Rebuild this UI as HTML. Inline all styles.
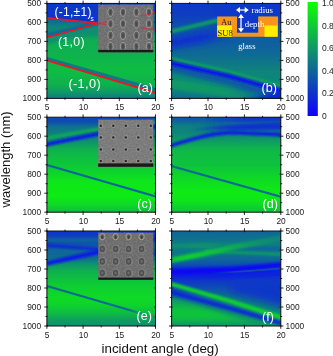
<!DOCTYPE html><html><head><meta charset="utf-8"><style>html,body{margin:0;padding:0;background:#fff;width:333px;height:356px;overflow:hidden}svg{display:block}</style></head><body><svg width="333" height="356" viewBox="0 0 333 356"><defs><clipPath id="cp1"><rect x="46.90" y="3.40" width="108.60" height="95.00"/></clipPath><linearGradient id="vg2" gradientUnits="userSpaceOnUse" x1="0" y1="3.40" x2="0" y2="98.40"><stop offset="0.0000" stop-color="#0e33cc"/><stop offset="0.1326" stop-color="#0e3dc2"/><stop offset="0.1747" stop-color="#0e6699"/><stop offset="0.3432" stop-color="#0e9966"/><stop offset="0.3853" stop-color="#0ead52"/><stop offset="0.5432" stop-color="#0eb24d"/><stop offset="0.7011" stop-color="#0ebd42"/><stop offset="0.8484" stop-color="#0eb24d"/><stop offset="0.9221" stop-color="#0e9e61"/><stop offset="1.0000" stop-color="#0e7a85"/></linearGradient><filter id="bl0" filterUnits="userSpaceOnUse" x="-20" y="-20" width="373" height="396"><feGaussianBlur stdDeviation="0.50"/></filter><linearGradient id="vg3" gradientUnits="userSpaceOnUse" x1="0" y1="17.00" x2="0" y2="38.00"><stop offset="0.0000" stop-color="#0e619e"/><stop offset="0.2381" stop-color="#0e708f"/><stop offset="0.4762" stop-color="#0e857a"/><stop offset="1.0000" stop-color="#0e8080"/></linearGradient><filter id="bl1" filterUnits="userSpaceOnUse" x="-20" y="-20" width="373" height="396"><feGaussianBlur stdDeviation="0.80"/></filter><filter id="bl2" filterUnits="userSpaceOnUse" x="-20" y="-20" width="373" height="396"><feGaussianBlur stdDeviation="1.60"/></filter><filter id="bl3" filterUnits="userSpaceOnUse" x="-20" y="-20" width="373" height="396"><feGaussianBlur stdDeviation="0.60"/></filter><filter id="bl4" filterUnits="userSpaceOnUse" x="-20" y="-20" width="373" height="396"><feGaussianBlur stdDeviation="0.25"/></filter><clipPath id="cp4"><rect x="171.60" y="3.40" width="109.20" height="95.00"/></clipPath><linearGradient id="vg5" gradientUnits="userSpaceOnUse" x1="0" y1="3.40" x2="0" y2="98.40"><stop offset="0.0000" stop-color="#0e38c7"/><stop offset="0.1116" stop-color="#0e3dc2"/><stop offset="0.2168" stop-color="#0e4cb2"/><stop offset="0.3432" stop-color="#0e5ca3"/><stop offset="0.4484" stop-color="#0e619e"/><stop offset="0.5432" stop-color="#0e6b94"/><stop offset="0.6484" stop-color="#0e7a85"/><stop offset="0.7221" stop-color="#0e857a"/><stop offset="0.8589" stop-color="#0e857a"/><stop offset="1.0000" stop-color="#0e6b94"/></linearGradient><linearGradient id="hg6" gradientUnits="userSpaceOnUse" x1="171.00" y1="0" x2="240.00" y2="0"><stop offset="0.0000" stop-color="#0e2ed1" stop-opacity="1.000"/><stop offset="0.4928" stop-color="#0e2ed1" stop-opacity="1.000"/><stop offset="1.0000" stop-color="#0e2ed1" stop-opacity="0.000"/></linearGradient><filter id="bl5" filterUnits="userSpaceOnUse" x="-20" y="-20" width="373" height="396"><feGaussianBlur stdDeviation="3.00"/></filter><filter id="bl6" filterUnits="userSpaceOnUse" x="-20" y="-20" width="373" height="396"><feGaussianBlur stdDeviation="1.20"/></filter><filter id="bl7" filterUnits="userSpaceOnUse" x="-20" y="-20" width="373" height="396"><feGaussianBlur stdDeviation="0.90"/></filter><linearGradient id="hg7" gradientUnits="userSpaceOnUse" x1="171.00" y1="0" x2="262.00" y2="0"><stop offset="0.0000" stop-color="#0e9e61" stop-opacity="1.000"/><stop offset="0.5934" stop-color="#0e9e61" stop-opacity="1.000"/><stop offset="1.0000" stop-color="#0e9e61" stop-opacity="0.000"/></linearGradient><filter id="bl8" filterUnits="userSpaceOnUse" x="-20" y="-20" width="373" height="396"><feGaussianBlur stdDeviation="3.20"/></filter><filter id="bl9" filterUnits="userSpaceOnUse" x="-20" y="-20" width="373" height="396"><feGaussianBlur stdDeviation="2.00"/></filter><filter id="bl10" filterUnits="userSpaceOnUse" x="-20" y="-20" width="373" height="396"><feGaussianBlur stdDeviation="2.20"/></filter><filter id="bl11" filterUnits="userSpaceOnUse" x="-20" y="-20" width="373" height="396"><feGaussianBlur stdDeviation="1.00"/></filter><clipPath id="cp8"><rect x="46.90" y="117.20" width="108.60" height="95.00"/></clipPath><linearGradient id="vg9" gradientUnits="userSpaceOnUse" x1="0" y1="117.20" x2="0" y2="212.20"><stop offset="0.0000" stop-color="#0e47b8"/><stop offset="0.0505" stop-color="#0e4cb2"/><stop offset="0.1032" stop-color="#0e738c"/><stop offset="0.1768" stop-color="#0e8080"/><stop offset="0.2400" stop-color="#0e8c73"/><stop offset="0.3453" stop-color="#0eb24d"/><stop offset="0.5347" stop-color="#0ecc33"/><stop offset="0.6821" stop-color="#0ee619"/><stop offset="0.8295" stop-color="#0eeb14"/><stop offset="0.9137" stop-color="#0edb24"/><stop offset="1.0000" stop-color="#0ebd42"/></linearGradient><filter id="bl12" filterUnits="userSpaceOnUse" x="-20" y="-20" width="373" height="396"><feGaussianBlur stdDeviation="1.30"/></filter><clipPath id="cp10"><rect x="171.60" y="117.20" width="109.20" height="95.00"/></clipPath><linearGradient id="vg11" gradientUnits="userSpaceOnUse" x1="0" y1="117.20" x2="0" y2="212.20"><stop offset="0.0000" stop-color="#0e52ad"/><stop offset="0.0400" stop-color="#0e619e"/><stop offset="0.0926" stop-color="#0e8080"/><stop offset="0.1663" stop-color="#0e857a"/><stop offset="0.2400" stop-color="#0e9966"/><stop offset="0.3453" stop-color="#0eb847"/><stop offset="0.5032" stop-color="#0ec23d"/><stop offset="0.6611" stop-color="#0edb24"/><stop offset="0.7874" stop-color="#0eeb14"/><stop offset="0.8716" stop-color="#0ee619"/><stop offset="0.9453" stop-color="#0ed12e"/><stop offset="1.0000" stop-color="#0ec23d"/></linearGradient><linearGradient id="hg12" gradientUnits="userSpaceOnUse" x1="205.00" y1="0" x2="281.00" y2="0"><stop offset="0.0000" stop-color="#0e38c7" stop-opacity="0.000"/><stop offset="0.5263" stop-color="#0e38c7" stop-opacity="1.000"/><stop offset="1.0000" stop-color="#0e38c7" stop-opacity="1.000"/></linearGradient><filter id="bl13" filterUnits="userSpaceOnUse" x="-20" y="-20" width="373" height="396"><feGaussianBlur stdDeviation="1.50"/></filter><linearGradient id="hg13" gradientUnits="userSpaceOnUse" x1="190.00" y1="0" x2="281.00" y2="0"><stop offset="0.0000" stop-color="#0e33cc" stop-opacity="0.000"/><stop offset="0.4615" stop-color="#0e33cc" stop-opacity="1.000"/><stop offset="1.0000" stop-color="#0e33cc" stop-opacity="1.000"/></linearGradient><linearGradient id="hg14" gradientUnits="userSpaceOnUse" x1="190.00" y1="0" x2="281.00" y2="0"><stop offset="0.0000" stop-color="#0e738c" stop-opacity="0.000"/><stop offset="0.4615" stop-color="#0e738c" stop-opacity="0.800"/><stop offset="1.0000" stop-color="#0e619e" stop-opacity="0.600"/></linearGradient><clipPath id="cp15"><rect x="46.90" y="231.00" width="108.60" height="95.00"/></clipPath><linearGradient id="vg16" gradientUnits="userSpaceOnUse" x1="0" y1="231.00" x2="0" y2="326.00"><stop offset="0.0000" stop-color="#0e33cc"/><stop offset="0.0526" stop-color="#0e3dc2"/><stop offset="0.0947" stop-color="#0e6699"/><stop offset="0.1263" stop-color="#0e52ad"/><stop offset="0.2000" stop-color="#0e6699"/><stop offset="0.2842" stop-color="#0e6b94"/><stop offset="0.3474" stop-color="#0e946b"/><stop offset="0.4105" stop-color="#0ead52"/><stop offset="0.5684" stop-color="#0ecc33"/><stop offset="0.7053" stop-color="#0edb24"/><stop offset="0.7895" stop-color="#0ed12e"/><stop offset="0.8737" stop-color="#0eb847"/><stop offset="0.9368" stop-color="#0e9e61"/><stop offset="1.0000" stop-color="#0e8f70"/></linearGradient><linearGradient id="hg17" gradientUnits="userSpaceOnUse" x1="46.00" y1="0" x2="146.00" y2="0"><stop offset="0.0000" stop-color="#0e6b94" stop-opacity="1.000"/><stop offset="0.8200" stop-color="#0e6b94" stop-opacity="1.000"/><stop offset="1.0000" stop-color="#0e6b94" stop-opacity="0.150"/></linearGradient><clipPath id="cp18"><rect x="171.60" y="231.00" width="109.20" height="95.00"/></clipPath><linearGradient id="vg19" gradientUnits="userSpaceOnUse" x1="0" y1="231.00" x2="0" y2="326.00"><stop offset="0.0000" stop-color="#0e6699"/><stop offset="0.0947" stop-color="#0e738c"/><stop offset="0.1579" stop-color="#0e8080"/><stop offset="0.2211" stop-color="#0e758a"/><stop offset="0.2947" stop-color="#0e6699"/><stop offset="0.3474" stop-color="#0e54ab"/><stop offset="0.3895" stop-color="#0e33cc"/><stop offset="0.4211" stop-color="#0e1ae6"/><stop offset="0.4737" stop-color="#0e1fe0"/><stop offset="0.5263" stop-color="#0e38c7"/><stop offset="0.5789" stop-color="#0e47b8"/><stop offset="0.7263" stop-color="#0e7a85"/><stop offset="1.0000" stop-color="#0ea35c"/></linearGradient><linearGradient id="hg20" gradientUnits="userSpaceOnUse" x1="171.00" y1="0" x2="235.00" y2="0"><stop offset="0.0000" stop-color="#0e8f70" stop-opacity="0.800"/><stop offset="0.5312" stop-color="#0e946b" stop-opacity="1.000"/><stop offset="1.0000" stop-color="#0e8f70" stop-opacity="0.000"/></linearGradient><filter id="bl14" filterUnits="userSpaceOnUse" x="-20" y="-20" width="373" height="396"><feGaussianBlur stdDeviation="1.80"/></filter><linearGradient id="hg21" gradientUnits="userSpaceOnUse" x1="171.00" y1="0" x2="281.00" y2="0"><stop offset="0.0000" stop-color="#0ecc33" stop-opacity="1.000"/><stop offset="0.1727" stop-color="#0ed629" stop-opacity="1.000"/><stop offset="0.4909" stop-color="#0eb847" stop-opacity="1.000"/><stop offset="0.7182" stop-color="#0e9966" stop-opacity="1.000"/><stop offset="1.0000" stop-color="#0e857a" stop-opacity="1.000"/></linearGradient><filter id="bl15" filterUnits="userSpaceOnUse" x="-20" y="-20" width="373" height="396"><feGaussianBlur stdDeviation="1.70"/></filter><linearGradient id="hg22" gradientUnits="userSpaceOnUse" x1="212.00" y1="0" x2="281.00" y2="0"><stop offset="0.0000" stop-color="#0e54ab" stop-opacity="0.000"/><stop offset="0.4058" stop-color="#0e54ab" stop-opacity="0.900"/><stop offset="1.0000" stop-color="#0e54ab" stop-opacity="1.000"/></linearGradient><filter id="bl16" filterUnits="userSpaceOnUse" x="-20" y="-20" width="373" height="396"><feGaussianBlur stdDeviation="0.70"/></filter><filter id="bl17" filterUnits="userSpaceOnUse" x="-20" y="-20" width="373" height="396"><feGaussianBlur stdDeviation="4.00"/></filter><linearGradient id="vg23" gradientUnits="userSpaceOnUse" x1="0" y1="295.00" x2="0" y2="326.00"><stop offset="0.0000" stop-color="#0e8c73"/><stop offset="0.2581" stop-color="#0ea857"/><stop offset="0.5484" stop-color="#0ec738"/><stop offset="0.7742" stop-color="#0ebd42"/><stop offset="1.0000" stop-color="#0e8f70"/></linearGradient><filter id="tf24" x="0" y="0" width="100%" height="100%"><feTurbulence type="fractalNoise" baseFrequency="0.5 0.7" numOctaves="2" seed="3"/><feColorMatrix type="matrix" values="0 0 0 0 0.5  0 0 0 0 0.5  0 0 0 0 0.5  0.9 0 0 0 -0.35"/></filter><filter id="tf25" x="0" y="0" width="100%" height="100%"><feTurbulence type="fractalNoise" baseFrequency="0.5 0.7" numOctaves="2" seed="3"/><feColorMatrix type="matrix" values="0 0 0 0 0.1  0 0 0 0 0.1  0 0 0 0 0.1  -0.9 0 0 0 0.5"/></filter><filter id="bl18" filterUnits="userSpaceOnUse" x="-20" y="-20" width="373" height="396"><feGaussianBlur stdDeviation="0.45"/></filter><filter id="tf26" x="0" y="0" width="100%" height="100%"><feTurbulence type="fractalNoise" baseFrequency="0.5 0.7" numOctaves="2" seed="5"/><feColorMatrix type="matrix" values="0 0 0 0 0.5  0 0 0 0 0.5  0 0 0 0 0.5  0.9 0 0 0 -0.35"/></filter><filter id="tf27" x="0" y="0" width="100%" height="100%"><feTurbulence type="fractalNoise" baseFrequency="0.5 0.7" numOctaves="2" seed="5"/><feColorMatrix type="matrix" values="0 0 0 0 0.1  0 0 0 0 0.1  0 0 0 0 0.1  -0.9 0 0 0 0.5"/></filter><filter id="tf28" x="0" y="0" width="100%" height="100%"><feTurbulence type="fractalNoise" baseFrequency="0.5 0.7" numOctaves="2" seed="7"/><feColorMatrix type="matrix" values="0 0 0 0 0.5  0 0 0 0 0.5  0 0 0 0 0.5  0.9 0 0 0 -0.35"/></filter><filter id="tf29" x="0" y="0" width="100%" height="100%"><feTurbulence type="fractalNoise" baseFrequency="0.5 0.7" numOctaves="2" seed="7"/><feColorMatrix type="matrix" values="0 0 0 0 0.1  0 0 0 0 0.1  0 0 0 0 0.1  -0.9 0 0 0 0.5"/></filter><linearGradient id="cbg" x1="0" y1="0" x2="0" y2="1"><stop offset="0" stop-color="#0eff00"/><stop offset="1" stop-color="#0e00ff"/></linearGradient></defs><rect width="333" height="356" fill="#fff"/><g clip-path="url(#cp1)"><rect x="0" y="0" width="333" height="356" fill="url(#vg2)"/><polygon points="40.00,0.00 160.00,0.00 160.00,12.60 98.00,23.40 40.00,17.00" fill="#0e38c7" fill-opacity="1.000" filter="url(#bl0)"/><polygon points="40,17 98,23.4 40,38.5" fill="url(#vg3)" filter="url(#bl0)"/><polyline points="40.00,37.20 98.00,22.50" fill="none" stroke="#0e5ca3" stroke-width="2.50" stroke-opacity="1.000" stroke-linecap="butt" stroke-linejoin="round" filter="url(#bl1)"/><polyline points="40.00,43.30 98.00,28.80 160.00,15.00" fill="none" stroke="#0e8f70" stroke-width="5.00" stroke-opacity="1.000" stroke-linecap="butt" stroke-linejoin="round" filter="url(#bl2)"/><polygon points="98.00,23.40 160.00,12.60 160.00,30.50" fill="#0e6699" fill-opacity="1.000" filter="url(#bl3)"/><polyline points="40.00,56.60 160.00,91.20" fill="none" stroke="#0e7a85" stroke-width="3.40" stroke-opacity="1.000" stroke-linecap="butt" stroke-linejoin="round" filter="url(#bl0)"/><polyline points="40.00,17.00 98.00,23.40 160.00,30.20" fill="none" stroke="#e8182a" stroke-width="1.70" stroke-opacity="1.000" stroke-linecap="butt" stroke-linejoin="round" filter="url(#bl4)"/><polyline points="40.00,39.30 98.00,23.50 160.00,12.00" fill="none" stroke="#e8182a" stroke-width="1.70" stroke-opacity="1.000" stroke-linecap="butt" stroke-linejoin="round" filter="url(#bl4)"/><polyline points="40.00,58.20 160.00,94.20" fill="none" stroke="#e8182a" stroke-width="1.80" stroke-opacity="1.000" stroke-linecap="butt" stroke-linejoin="round" filter="url(#bl4)"/></g><g clip-path="url(#cp4)"><rect x="0" y="0" width="333" height="356" fill="url(#vg5)"/><polyline points="165,44 217,35 285,29" fill="none" stroke="url(#hg6)" stroke-width="10"  filter="url(#bl5)"/><polyline points="165.00,32.80 217.00,20.50 285.00,12.00" fill="none" stroke="#0e9966" stroke-width="4.20" stroke-opacity="1.000" stroke-linecap="butt" stroke-linejoin="round" filter="url(#bl6)"/><polyline points="165.00,56.80 228.00,71.30 285.00,86.50" fill="none" stroke="#0ea35c" stroke-width="2.60" stroke-opacity="1.000" stroke-linecap="butt" stroke-linejoin="round" filter="url(#bl7)"/><polyline points="165,83 228,93 285,106" fill="none" stroke="url(#hg7)" stroke-width="9"  filter="url(#bl8)"/><polyline points="165.00,67.00 228.00,81.50 285.00,98.00" fill="none" stroke="#0e4cb2" stroke-width="5.00" stroke-opacity="1.000" stroke-linecap="butt" stroke-linejoin="round" filter="url(#bl9)"/><polygon points="236.00,104.00 285.00,90.00 285.00,104.00" fill="#0e24db" fill-opacity="1.000" filter="url(#bl10)"/><polyline points="165.00,62.00 228.00,76.00 285.00,92.00" fill="none" stroke="#0e0df2" stroke-width="4.00" stroke-opacity="1.000" stroke-linecap="butt" stroke-linejoin="round" filter="url(#bl11)"/></g><g clip-path="url(#cp8)"><rect x="0" y="0" width="333" height="356" fill="url(#vg9)"/><polyline points="40.00,139.00 98.00,129.30 160.00,122.00" fill="none" stroke="#0ea857" stroke-width="3.40" stroke-opacity="1.000" stroke-linecap="butt" stroke-linejoin="round" filter="url(#bl12)"/><polyline points="40.00,145.80 70.00,139.50 98.00,134.00 160.00,126.00" fill="none" stroke="#0e12ed" stroke-width="3.80" stroke-opacity="1.000" stroke-linecap="butt" stroke-linejoin="round" filter="url(#bl12)"/><polyline points="40.00,162.90 160.00,197.60" fill="none" stroke="#0e6699" stroke-width="2.20" stroke-opacity="1.000" stroke-linecap="butt" stroke-linejoin="round" filter="url(#bl3)"/></g><g clip-path="url(#cp10)"><rect x="0" y="0" width="333" height="356" fill="url(#vg11)"/><rect x="200" y="110" width="90" height="20" fill="url(#hg12)" filter="url(#bl13)"/><polyline points="190,129.5 230,127.5 290,126.2" fill="none" stroke="url(#hg13)" stroke-width="4"  filter="url(#bl6)"/><polyline points="190,125 230,123.3 290,121.5" fill="none" stroke="url(#hg14)" stroke-width="2.4"  filter="url(#bl7)"/><path d="M165,147.5 C195,138 215,132 235,132.6 S270,134 290,135.2" fill="none" stroke="#0e1ae6" stroke-width="3.8"  filter="url(#bl12)"/><polyline points="165.00,164.30 285.00,197.90" fill="none" stroke="#0e6b94" stroke-width="2.20" stroke-opacity="1.000" stroke-linecap="butt" stroke-linejoin="round" filter="url(#bl3)"/></g><g clip-path="url(#cp15)"><rect x="0" y="0" width="333" height="356" fill="url(#vg16)"/><polyline points="40.00,244.80 100.00,249.30 160.00,254.00" fill="none" stroke="#0e24db" stroke-width="2.80" stroke-opacity="1.000" stroke-linecap="butt" stroke-linejoin="round" filter="url(#bl11)"/><polyline points="40.00,265.00 100.00,251.60 160.00,238.00" fill="none" stroke="#0e14eb" stroke-width="4.20" stroke-opacity="1.000" stroke-linecap="butt" stroke-linejoin="round" filter="url(#bl11)"/><polyline points="40,284 160,319" fill="none" stroke="url(#hg17)" stroke-width="2.2"  filter="url(#bl3)"/></g><g clip-path="url(#cp18)"><rect x="0" y="0" width="333" height="356" fill="url(#vg19)"/><polyline points="215.00,248.50 285.00,248.50" fill="none" stroke="#0e5ca3" stroke-width="3.00" stroke-opacity="1.000" stroke-linecap="butt" stroke-linejoin="round" filter="url(#bl13)"/><polyline points="165,245.8 200,245.8 240,245" fill="none" stroke="url(#hg20)" stroke-width="4.5"  filter="url(#bl14)"/><polyline points="205.00,251.00 240.00,252.50 285.00,254.50" fill="none" stroke="#0e946b" stroke-width="3.40" stroke-opacity="1.000" stroke-linecap="butt" stroke-linejoin="round" filter="url(#bl12)"/><polyline points="165,261.4 200,254.6 230,248 285,237.5" fill="none" stroke="url(#hg21)" stroke-width="5.5"  filter="url(#bl15)"/><polyline points="165.00,272.30 230.00,269.50 285.00,264.30" fill="none" stroke="#0e05fa" stroke-width="4.20" stroke-opacity="1.000" stroke-linecap="butt" stroke-linejoin="round" filter="url(#bl2)"/><polyline points="212,273.4 250,270.8 285,268.0" fill="none" stroke="url(#hg22)" stroke-width="1.8"  filter="url(#bl16)"/><polygon points="230.00,280.00 290.00,275.00 290.00,310.00 230.00,292.00" fill="#0e38c7" fill-opacity="1.000" filter="url(#bl17)"/><polygon points="165,296 290,334 165,334" fill="url(#vg23)" filter="url(#bl9)"/><polyline points="165.00,290.50 230.00,308.20 285.00,324.20" fill="none" stroke="#0e1fe0" stroke-width="4.20" stroke-opacity="1.000" stroke-linecap="butt" stroke-linejoin="round" filter="url(#bl13)"/><polyline points="165.00,282.30 230.00,301.00 285.00,318.50" fill="none" stroke="#0ed12e" stroke-width="4.20" stroke-opacity="1.000" stroke-linecap="butt" stroke-linejoin="round" filter="url(#bl11)"/></g><rect x="98.20" y="4.60" width="55.10" height="47.70" fill="#6e6e6e"/><rect x="98.20" y="4.60" width="55.10" height="47.70" fill="#fff" filter="url(#tf24)" opacity="0.55"/><rect x="98.20" y="4.60" width="55.10" height="47.70" fill="#000" filter="url(#tf25)" opacity="0.45"/><g filter="url(#bl18)"><ellipse cx="110.50" cy="12.20" rx="2.60" ry="4.10" fill="#5e5e5e" stroke="#a6a6a6" stroke-width="1" stroke-opacity="0.8"/><ellipse cx="110.50" cy="12.20" rx="1.17" ry="2.25" fill="#4c4c4c"/><ellipse cx="123.00" cy="12.20" rx="2.60" ry="4.10" fill="#5e5e5e" stroke="#a6a6a6" stroke-width="1" stroke-opacity="0.8"/><ellipse cx="123.00" cy="12.20" rx="1.17" ry="2.25" fill="#4c4c4c"/><ellipse cx="136.40" cy="12.20" rx="2.60" ry="4.10" fill="#5e5e5e" stroke="#a6a6a6" stroke-width="1" stroke-opacity="0.8"/><ellipse cx="136.40" cy="12.20" rx="1.17" ry="2.25" fill="#4c4c4c"/><ellipse cx="149.00" cy="12.20" rx="2.60" ry="4.10" fill="#5e5e5e" stroke="#a6a6a6" stroke-width="1" stroke-opacity="0.8"/><ellipse cx="149.00" cy="12.20" rx="1.17" ry="2.25" fill="#4c4c4c"/><ellipse cx="110.50" cy="23.80" rx="2.60" ry="4.10" fill="#5e5e5e" stroke="#a6a6a6" stroke-width="1" stroke-opacity="0.8"/><ellipse cx="110.50" cy="23.80" rx="1.17" ry="2.25" fill="#4c4c4c"/><ellipse cx="123.00" cy="23.80" rx="2.60" ry="4.10" fill="#5e5e5e" stroke="#a6a6a6" stroke-width="1" stroke-opacity="0.8"/><ellipse cx="123.00" cy="23.80" rx="1.17" ry="2.25" fill="#4c4c4c"/><ellipse cx="136.40" cy="23.80" rx="2.60" ry="4.10" fill="#5e5e5e" stroke="#a6a6a6" stroke-width="1" stroke-opacity="0.8"/><ellipse cx="136.40" cy="23.80" rx="1.17" ry="2.25" fill="#4c4c4c"/><ellipse cx="149.00" cy="23.80" rx="2.60" ry="4.10" fill="#5e5e5e" stroke="#a6a6a6" stroke-width="1" stroke-opacity="0.8"/><ellipse cx="149.00" cy="23.80" rx="1.17" ry="2.25" fill="#4c4c4c"/><ellipse cx="110.50" cy="35.40" rx="2.60" ry="4.10" fill="#5e5e5e" stroke="#a6a6a6" stroke-width="1" stroke-opacity="0.8"/><ellipse cx="110.50" cy="35.40" rx="1.17" ry="2.25" fill="#4c4c4c"/><ellipse cx="123.00" cy="35.40" rx="2.60" ry="4.10" fill="#5e5e5e" stroke="#a6a6a6" stroke-width="1" stroke-opacity="0.8"/><ellipse cx="123.00" cy="35.40" rx="1.17" ry="2.25" fill="#4c4c4c"/><ellipse cx="136.40" cy="35.40" rx="2.60" ry="4.10" fill="#5e5e5e" stroke="#a6a6a6" stroke-width="1" stroke-opacity="0.8"/><ellipse cx="136.40" cy="35.40" rx="1.17" ry="2.25" fill="#4c4c4c"/><ellipse cx="149.00" cy="35.40" rx="2.60" ry="4.10" fill="#5e5e5e" stroke="#a6a6a6" stroke-width="1" stroke-opacity="0.8"/><ellipse cx="149.00" cy="35.40" rx="1.17" ry="2.25" fill="#4c4c4c"/><ellipse cx="110.50" cy="46.50" rx="2.60" ry="4.10" fill="#5e5e5e" stroke="#a6a6a6" stroke-width="1" stroke-opacity="0.8"/><ellipse cx="110.50" cy="46.50" rx="1.17" ry="2.25" fill="#4c4c4c"/><ellipse cx="123.00" cy="46.50" rx="2.60" ry="4.10" fill="#5e5e5e" stroke="#a6a6a6" stroke-width="1" stroke-opacity="0.8"/><ellipse cx="123.00" cy="46.50" rx="1.17" ry="2.25" fill="#4c4c4c"/><ellipse cx="136.40" cy="46.50" rx="2.60" ry="4.10" fill="#5e5e5e" stroke="#a6a6a6" stroke-width="1" stroke-opacity="0.8"/><ellipse cx="136.40" cy="46.50" rx="1.17" ry="2.25" fill="#4c4c4c"/><ellipse cx="149.00" cy="46.50" rx="2.60" ry="4.10" fill="#5e5e5e" stroke="#a6a6a6" stroke-width="1" stroke-opacity="0.8"/><ellipse cx="149.00" cy="46.50" rx="1.17" ry="2.25" fill="#4c4c4c"/></g><rect x="98.20" y="49.90" width="55.10" height="2.40" fill="#1a1a1a"/><line x1="98.20" y1="23.42" x2="107.00" y2="24.39" stroke="#e8182a" stroke-width="1.5" stroke-opacity="0.40"/><line x1="141.00" y1="28.12" x2="153.30" y2="29.47" stroke="#e8182a" stroke-width="1.5" stroke-opacity="0.45"/><line x1="98.20" y1="23.46" x2="107.00" y2="21.83" stroke="#e8182a" stroke-width="1.5" stroke-opacity="0.40"/><line x1="141.00" y1="15.52" x2="153.30" y2="13.24" stroke="#e8182a" stroke-width="1.5" stroke-opacity="0.45"/><rect x="98.20" y="119.70" width="55.10" height="47.10" fill="#7a7a7a"/><rect x="98.20" y="119.70" width="55.10" height="47.10" fill="#fff" filter="url(#tf26)" opacity="0.55"/><rect x="98.20" y="119.70" width="55.10" height="47.10" fill="#000" filter="url(#tf27)" opacity="0.45"/><g filter="url(#bl18)"><circle cx="100.80" cy="125.80" r="2.30" fill="#a4a4a4" fill-opacity="0.5"/><circle cx="100.80" cy="125.80" r="1.20" fill="#262626"/><circle cx="113.30" cy="125.80" r="2.30" fill="#a4a4a4" fill-opacity="0.5"/><circle cx="113.30" cy="125.80" r="1.20" fill="#262626"/><circle cx="125.80" cy="125.80" r="2.30" fill="#a4a4a4" fill-opacity="0.5"/><circle cx="125.80" cy="125.80" r="1.20" fill="#262626"/><circle cx="138.30" cy="125.80" r="2.30" fill="#a4a4a4" fill-opacity="0.5"/><circle cx="138.30" cy="125.80" r="1.20" fill="#262626"/><circle cx="150.80" cy="125.80" r="2.30" fill="#a4a4a4" fill-opacity="0.5"/><circle cx="150.80" cy="125.80" r="1.20" fill="#262626"/><circle cx="100.80" cy="137.40" r="2.30" fill="#a4a4a4" fill-opacity="0.5"/><circle cx="100.80" cy="137.40" r="1.20" fill="#262626"/><circle cx="113.30" cy="137.40" r="2.30" fill="#a4a4a4" fill-opacity="0.5"/><circle cx="113.30" cy="137.40" r="1.20" fill="#262626"/><circle cx="125.80" cy="137.40" r="2.30" fill="#a4a4a4" fill-opacity="0.5"/><circle cx="125.80" cy="137.40" r="1.20" fill="#262626"/><circle cx="138.30" cy="137.40" r="2.30" fill="#a4a4a4" fill-opacity="0.5"/><circle cx="138.30" cy="137.40" r="1.20" fill="#262626"/><circle cx="150.80" cy="137.40" r="2.30" fill="#a4a4a4" fill-opacity="0.5"/><circle cx="150.80" cy="137.40" r="1.20" fill="#262626"/><circle cx="100.80" cy="149.50" r="2.30" fill="#a4a4a4" fill-opacity="0.5"/><circle cx="100.80" cy="149.50" r="1.20" fill="#262626"/><circle cx="113.30" cy="149.50" r="2.30" fill="#a4a4a4" fill-opacity="0.5"/><circle cx="113.30" cy="149.50" r="1.20" fill="#262626"/><circle cx="125.80" cy="149.50" r="2.30" fill="#a4a4a4" fill-opacity="0.5"/><circle cx="125.80" cy="149.50" r="1.20" fill="#262626"/><circle cx="138.30" cy="149.50" r="2.30" fill="#a4a4a4" fill-opacity="0.5"/><circle cx="138.30" cy="149.50" r="1.20" fill="#262626"/><circle cx="150.80" cy="149.50" r="2.30" fill="#a4a4a4" fill-opacity="0.5"/><circle cx="150.80" cy="149.50" r="1.20" fill="#262626"/><circle cx="100.80" cy="161.00" r="2.30" fill="#a4a4a4" fill-opacity="0.5"/><circle cx="100.80" cy="161.00" r="1.20" fill="#262626"/><circle cx="113.30" cy="161.00" r="2.30" fill="#a4a4a4" fill-opacity="0.5"/><circle cx="113.30" cy="161.00" r="1.20" fill="#262626"/><circle cx="125.80" cy="161.00" r="2.30" fill="#a4a4a4" fill-opacity="0.5"/><circle cx="125.80" cy="161.00" r="1.20" fill="#262626"/><circle cx="138.30" cy="161.00" r="2.30" fill="#a4a4a4" fill-opacity="0.5"/><circle cx="138.30" cy="161.00" r="1.20" fill="#262626"/><circle cx="150.80" cy="161.00" r="2.30" fill="#a4a4a4" fill-opacity="0.5"/><circle cx="150.80" cy="161.00" r="1.20" fill="#262626"/></g><rect x="98.20" y="163.40" width="55.10" height="3.40" fill="#1a1a1a"/><rect x="98.20" y="232.70" width="55.10" height="47.10" fill="#6c6c6c"/><rect x="98.20" y="232.70" width="55.10" height="47.10" fill="#fff" filter="url(#tf28)" opacity="0.55"/><rect x="98.20" y="232.70" width="55.10" height="47.10" fill="#000" filter="url(#tf29)" opacity="0.45"/><g filter="url(#bl18)"><ellipse cx="102.30" cy="236.60" rx="2.70" ry="3.30" fill="#707070" stroke="#a8a8a8" stroke-width="1" stroke-opacity="0.8"/><ellipse cx="102.30" cy="237.10" rx="1.22" ry="1.81" fill="#3c3c3c"/><ellipse cx="115.60" cy="236.60" rx="2.70" ry="3.30" fill="#707070" stroke="#a8a8a8" stroke-width="1" stroke-opacity="0.8"/><ellipse cx="115.60" cy="237.10" rx="1.22" ry="1.81" fill="#3c3c3c"/><ellipse cx="128.60" cy="236.60" rx="2.70" ry="3.30" fill="#707070" stroke="#a8a8a8" stroke-width="1" stroke-opacity="0.8"/><ellipse cx="128.60" cy="237.10" rx="1.22" ry="1.81" fill="#3c3c3c"/><ellipse cx="141.60" cy="236.60" rx="2.70" ry="3.30" fill="#707070" stroke="#a8a8a8" stroke-width="1" stroke-opacity="0.8"/><ellipse cx="141.60" cy="237.10" rx="1.22" ry="1.81" fill="#3c3c3c"/><ellipse cx="102.70" cy="249.00" rx="4.00" ry="4.60" fill="#a0a0a0" fill-opacity="0.32"/><ellipse cx="102.30" cy="249.00" rx="2.70" ry="3.30" fill="#505050"/><ellipse cx="102.30" cy="249.00" rx="1.22" ry="1.48" fill="#6c6c6c"/><ellipse cx="116.00" cy="249.00" rx="4.00" ry="4.60" fill="#a0a0a0" fill-opacity="0.32"/><ellipse cx="115.60" cy="249.00" rx="2.70" ry="3.30" fill="#505050"/><ellipse cx="115.60" cy="249.00" rx="1.22" ry="1.48" fill="#6c6c6c"/><ellipse cx="129.00" cy="249.00" rx="4.00" ry="4.60" fill="#a0a0a0" fill-opacity="0.32"/><ellipse cx="128.60" cy="249.00" rx="2.70" ry="3.30" fill="#505050"/><ellipse cx="128.60" cy="249.00" rx="1.22" ry="1.48" fill="#6c6c6c"/><ellipse cx="142.00" cy="249.00" rx="4.00" ry="4.60" fill="#a0a0a0" fill-opacity="0.32"/><ellipse cx="141.60" cy="249.00" rx="2.70" ry="3.30" fill="#505050"/><ellipse cx="141.60" cy="249.00" rx="1.22" ry="1.48" fill="#6c6c6c"/><ellipse cx="102.70" cy="261.40" rx="4.00" ry="4.60" fill="#a0a0a0" fill-opacity="0.32"/><ellipse cx="102.30" cy="261.40" rx="2.70" ry="3.30" fill="#505050"/><ellipse cx="102.30" cy="261.40" rx="1.22" ry="1.48" fill="#6c6c6c"/><ellipse cx="116.00" cy="261.40" rx="4.00" ry="4.60" fill="#a0a0a0" fill-opacity="0.32"/><ellipse cx="115.60" cy="261.40" rx="2.70" ry="3.30" fill="#505050"/><ellipse cx="115.60" cy="261.40" rx="1.22" ry="1.48" fill="#6c6c6c"/><ellipse cx="129.00" cy="261.40" rx="4.00" ry="4.60" fill="#a0a0a0" fill-opacity="0.32"/><ellipse cx="128.60" cy="261.40" rx="2.70" ry="3.30" fill="#505050"/><ellipse cx="128.60" cy="261.40" rx="1.22" ry="1.48" fill="#6c6c6c"/><ellipse cx="142.00" cy="261.40" rx="4.00" ry="4.60" fill="#a0a0a0" fill-opacity="0.32"/><ellipse cx="141.60" cy="261.40" rx="2.70" ry="3.30" fill="#505050"/><ellipse cx="141.60" cy="261.40" rx="1.22" ry="1.48" fill="#6c6c6c"/><ellipse cx="102.70" cy="273.10" rx="4.00" ry="4.60" fill="#a0a0a0" fill-opacity="0.32"/><ellipse cx="102.30" cy="273.10" rx="2.70" ry="3.30" fill="#505050"/><ellipse cx="102.30" cy="273.10" rx="1.22" ry="1.48" fill="#6c6c6c"/><ellipse cx="116.00" cy="273.10" rx="4.00" ry="4.60" fill="#a0a0a0" fill-opacity="0.32"/><ellipse cx="115.60" cy="273.10" rx="2.70" ry="3.30" fill="#505050"/><ellipse cx="115.60" cy="273.10" rx="1.22" ry="1.48" fill="#6c6c6c"/><ellipse cx="129.00" cy="273.10" rx="4.00" ry="4.60" fill="#a0a0a0" fill-opacity="0.32"/><ellipse cx="128.60" cy="273.10" rx="2.70" ry="3.30" fill="#505050"/><ellipse cx="128.60" cy="273.10" rx="1.22" ry="1.48" fill="#6c6c6c"/><ellipse cx="142.00" cy="273.10" rx="4.00" ry="4.60" fill="#a0a0a0" fill-opacity="0.32"/><ellipse cx="141.60" cy="273.10" rx="2.70" ry="3.30" fill="#505050"/><ellipse cx="141.60" cy="273.10" rx="1.22" ry="1.48" fill="#6c6c6c"/></g><rect x="98.20" y="277.60" width="55.10" height="2.20" fill="#1a1a1a"/><path d="M217.2,16.3 H237.1 V32.5 H258.1 V16.3 H278 V36.7 H217.2 Z" fill="#f7941d"/><rect x="217.2" y="25.5" width="14.8" height="11.2" fill="#ffee00"/><rect x="264.5" y="25.5" width="13" height="11.2" fill="#ffee00"/><rect x="237.1" y="3.9" width="21" height="28.6" fill="#0e38c7"/><rect x="214" y="3.9" width="66.5" height="12.4" fill="#0e38c7"/><path d="M236,10 l4,-3 v6 z M248.7,10 l-4,-3 v6 z" fill="#fff"/><rect x="239" y="9.4" width="6.5" height="1.2" fill="#fff"/><path d="M241,14 l-3,4 h6 z M241,32.3 l-3,-4 h6 z" fill="#fff"/><rect x="240.4" y="17" width="1.2" height="12" fill="#fff"/><text x="251.5" y="13" font-family="Liberation Serif" font-size="8.8" fill="#fff">radius</text><text x="244.8" y="27" font-family="Liberation Serif" font-size="8.8" fill="#fff">depth</text><text x="221" y="25" font-family="Liberation Serif" font-size="8.6" fill="#222">Au</text><text x="217.6" y="36.2" font-family="Liberation Serif" font-size="8.6" fill="#222">SU8</text><text x="238.3" y="49.2" font-family="Liberation Serif" font-size="8.6" fill="#fff">glass</text><text x="54.4" y="15.9" font-family="Liberation Sans" fill="#fff" font-size="12" letter-spacing="0.3">(-1,±1)</text><text x="90.6" y="21.2" font-family="Liberation Sans" fill="#fff" font-size="6.5">s</text><text x="57.9" y="46.3" font-family="Liberation Sans" fill="#fff" font-size="12.3" letter-spacing="0.35">(1,0)</text><text x="68.4" y="88.4" font-family="Liberation Sans" fill="#fff" font-size="12.8" letter-spacing="0.35">(-1,0)</text><text x="137.5" y="92.2" font-family="Liberation Sans" fill="#fff" font-size="12.6">(a)</text><text x="261.6" y="92.2" font-family="Liberation Sans" fill="#fff" font-size="12.6">(b)</text><text x="137.3" y="207.8" font-family="Liberation Sans" fill="#fff" font-size="12.6">(c)</text><text x="262.6" y="207.5" font-family="Liberation Sans" fill="#fff" font-size="12.6">(d)</text><text x="136.5" y="320.0" font-family="Liberation Sans" fill="#fff" font-size="12.6">(e)</text><text x="262.0" y="320.5" font-family="Liberation Sans" fill="#fff" font-size="12.6">(f)</text><rect x="46.90" y="3.40" width="108.60" height="95.00" fill="none" stroke="#111" stroke-width="1"/><line x1="44.30" y1="3.40" x2="48.10" y2="3.40" stroke="#111" stroke-width="0.9"/><line x1="154.30" y1="3.40" x2="155.50" y2="3.40" stroke="#111" stroke-width="0.9"/><line x1="45.50" y1="12.90" x2="47.70" y2="12.90" stroke="#111" stroke-width="0.9"/><line x1="154.70" y1="12.90" x2="155.50" y2="12.90" stroke="#111" stroke-width="0.9"/><line x1="44.30" y1="22.40" x2="48.10" y2="22.40" stroke="#111" stroke-width="0.9"/><line x1="154.30" y1="22.40" x2="155.50" y2="22.40" stroke="#111" stroke-width="0.9"/><line x1="45.50" y1="31.90" x2="47.70" y2="31.90" stroke="#111" stroke-width="0.9"/><line x1="154.70" y1="31.90" x2="155.50" y2="31.90" stroke="#111" stroke-width="0.9"/><line x1="44.30" y1="41.40" x2="48.10" y2="41.40" stroke="#111" stroke-width="0.9"/><line x1="154.30" y1="41.40" x2="155.50" y2="41.40" stroke="#111" stroke-width="0.9"/><line x1="45.50" y1="50.90" x2="47.70" y2="50.90" stroke="#111" stroke-width="0.9"/><line x1="154.70" y1="50.90" x2="155.50" y2="50.90" stroke="#111" stroke-width="0.9"/><line x1="44.30" y1="60.40" x2="48.10" y2="60.40" stroke="#111" stroke-width="0.9"/><line x1="154.30" y1="60.40" x2="155.50" y2="60.40" stroke="#111" stroke-width="0.9"/><line x1="45.50" y1="69.90" x2="47.70" y2="69.90" stroke="#111" stroke-width="0.9"/><line x1="154.70" y1="69.90" x2="155.50" y2="69.90" stroke="#111" stroke-width="0.9"/><line x1="44.30" y1="79.40" x2="48.10" y2="79.40" stroke="#111" stroke-width="0.9"/><line x1="154.30" y1="79.40" x2="155.50" y2="79.40" stroke="#111" stroke-width="0.9"/><line x1="45.50" y1="88.90" x2="47.70" y2="88.90" stroke="#111" stroke-width="0.9"/><line x1="154.70" y1="88.90" x2="155.50" y2="88.90" stroke="#111" stroke-width="0.9"/><line x1="44.30" y1="98.40" x2="48.10" y2="98.40" stroke="#111" stroke-width="0.9"/><line x1="154.30" y1="98.40" x2="155.50" y2="98.40" stroke="#111" stroke-width="0.9"/><line x1="46.90" y1="97.20" x2="46.90" y2="101.20" stroke="#111" stroke-width="0.9"/><line x1="46.90" y1="0.60" x2="46.90" y2="4.60" stroke="#111" stroke-width="0.9"/><line x1="65.00" y1="97.60" x2="65.00" y2="99.80" stroke="#111" stroke-width="0.9"/><line x1="65.00" y1="2.00" x2="65.00" y2="4.20" stroke="#111" stroke-width="0.9"/><line x1="83.10" y1="97.20" x2="83.10" y2="101.20" stroke="#111" stroke-width="0.9"/><line x1="83.10" y1="0.60" x2="83.10" y2="4.60" stroke="#111" stroke-width="0.9"/><line x1="101.20" y1="97.60" x2="101.20" y2="99.80" stroke="#111" stroke-width="0.9"/><line x1="101.20" y1="2.00" x2="101.20" y2="4.20" stroke="#111" stroke-width="0.9"/><line x1="119.30" y1="97.20" x2="119.30" y2="101.20" stroke="#111" stroke-width="0.9"/><line x1="119.30" y1="0.60" x2="119.30" y2="4.60" stroke="#111" stroke-width="0.9"/><line x1="137.40" y1="97.60" x2="137.40" y2="99.80" stroke="#111" stroke-width="0.9"/><line x1="137.40" y1="2.00" x2="137.40" y2="4.20" stroke="#111" stroke-width="0.9"/><line x1="155.50" y1="97.20" x2="155.50" y2="101.20" stroke="#111" stroke-width="0.9"/><line x1="155.50" y1="0.60" x2="155.50" y2="4.60" stroke="#111" stroke-width="0.9"/><text x="41.20" y="5.90" font-family="Liberation Sans" fill="#222" font-size="8.4" text-anchor="end">500</text><text x="41.20" y="24.90" font-family="Liberation Sans" fill="#222" font-size="8.4" text-anchor="end">600</text><text x="41.20" y="43.90" font-family="Liberation Sans" fill="#222" font-size="8.4" text-anchor="end">700</text><text x="41.20" y="62.90" font-family="Liberation Sans" fill="#222" font-size="8.4" text-anchor="end">800</text><text x="41.20" y="81.90" font-family="Liberation Sans" fill="#222" font-size="8.4" text-anchor="end">900</text><text x="41.20" y="100.90" font-family="Liberation Sans" fill="#222" font-size="8.4" text-anchor="end">1000</text><text x="47.20" y="110.20" font-family="Liberation Sans" fill="#222" font-size="8.4" text-anchor="middle">5</text><text x="83.40" y="110.20" font-family="Liberation Sans" fill="#222" font-size="8.4" text-anchor="middle">10</text><text x="119.60" y="110.20" font-family="Liberation Sans" fill="#222" font-size="8.4" text-anchor="middle">15</text><text x="155.80" y="110.20" font-family="Liberation Sans" fill="#222" font-size="8.4" text-anchor="middle">20</text><rect x="46.90" y="117.20" width="108.60" height="95.00" fill="none" stroke="#111" stroke-width="1"/><line x1="44.30" y1="117.20" x2="48.10" y2="117.20" stroke="#111" stroke-width="0.9"/><line x1="154.30" y1="117.20" x2="155.50" y2="117.20" stroke="#111" stroke-width="0.9"/><line x1="45.50" y1="126.70" x2="47.70" y2="126.70" stroke="#111" stroke-width="0.9"/><line x1="154.70" y1="126.70" x2="155.50" y2="126.70" stroke="#111" stroke-width="0.9"/><line x1="44.30" y1="136.20" x2="48.10" y2="136.20" stroke="#111" stroke-width="0.9"/><line x1="154.30" y1="136.20" x2="155.50" y2="136.20" stroke="#111" stroke-width="0.9"/><line x1="45.50" y1="145.70" x2="47.70" y2="145.70" stroke="#111" stroke-width="0.9"/><line x1="154.70" y1="145.70" x2="155.50" y2="145.70" stroke="#111" stroke-width="0.9"/><line x1="44.30" y1="155.20" x2="48.10" y2="155.20" stroke="#111" stroke-width="0.9"/><line x1="154.30" y1="155.20" x2="155.50" y2="155.20" stroke="#111" stroke-width="0.9"/><line x1="45.50" y1="164.70" x2="47.70" y2="164.70" stroke="#111" stroke-width="0.9"/><line x1="154.70" y1="164.70" x2="155.50" y2="164.70" stroke="#111" stroke-width="0.9"/><line x1="44.30" y1="174.20" x2="48.10" y2="174.20" stroke="#111" stroke-width="0.9"/><line x1="154.30" y1="174.20" x2="155.50" y2="174.20" stroke="#111" stroke-width="0.9"/><line x1="45.50" y1="183.70" x2="47.70" y2="183.70" stroke="#111" stroke-width="0.9"/><line x1="154.70" y1="183.70" x2="155.50" y2="183.70" stroke="#111" stroke-width="0.9"/><line x1="44.30" y1="193.20" x2="48.10" y2="193.20" stroke="#111" stroke-width="0.9"/><line x1="154.30" y1="193.20" x2="155.50" y2="193.20" stroke="#111" stroke-width="0.9"/><line x1="45.50" y1="202.70" x2="47.70" y2="202.70" stroke="#111" stroke-width="0.9"/><line x1="154.70" y1="202.70" x2="155.50" y2="202.70" stroke="#111" stroke-width="0.9"/><line x1="44.30" y1="212.20" x2="48.10" y2="212.20" stroke="#111" stroke-width="0.9"/><line x1="154.30" y1="212.20" x2="155.50" y2="212.20" stroke="#111" stroke-width="0.9"/><line x1="46.90" y1="211.00" x2="46.90" y2="215.00" stroke="#111" stroke-width="0.9"/><line x1="46.90" y1="114.40" x2="46.90" y2="118.40" stroke="#111" stroke-width="0.9"/><line x1="65.00" y1="211.40" x2="65.00" y2="213.60" stroke="#111" stroke-width="0.9"/><line x1="65.00" y1="115.80" x2="65.00" y2="118.00" stroke="#111" stroke-width="0.9"/><line x1="83.10" y1="211.00" x2="83.10" y2="215.00" stroke="#111" stroke-width="0.9"/><line x1="83.10" y1="114.40" x2="83.10" y2="118.40" stroke="#111" stroke-width="0.9"/><line x1="101.20" y1="211.40" x2="101.20" y2="213.60" stroke="#111" stroke-width="0.9"/><line x1="101.20" y1="115.80" x2="101.20" y2="118.00" stroke="#111" stroke-width="0.9"/><line x1="119.30" y1="211.00" x2="119.30" y2="215.00" stroke="#111" stroke-width="0.9"/><line x1="119.30" y1="114.40" x2="119.30" y2="118.40" stroke="#111" stroke-width="0.9"/><line x1="137.40" y1="211.40" x2="137.40" y2="213.60" stroke="#111" stroke-width="0.9"/><line x1="137.40" y1="115.80" x2="137.40" y2="118.00" stroke="#111" stroke-width="0.9"/><line x1="155.50" y1="211.00" x2="155.50" y2="215.00" stroke="#111" stroke-width="0.9"/><line x1="155.50" y1="114.40" x2="155.50" y2="118.40" stroke="#111" stroke-width="0.9"/><text x="41.20" y="119.70" font-family="Liberation Sans" fill="#222" font-size="8.4" text-anchor="end">500</text><text x="41.20" y="138.70" font-family="Liberation Sans" fill="#222" font-size="8.4" text-anchor="end">600</text><text x="41.20" y="157.70" font-family="Liberation Sans" fill="#222" font-size="8.4" text-anchor="end">700</text><text x="41.20" y="176.70" font-family="Liberation Sans" fill="#222" font-size="8.4" text-anchor="end">800</text><text x="41.20" y="195.70" font-family="Liberation Sans" fill="#222" font-size="8.4" text-anchor="end">900</text><text x="41.20" y="214.70" font-family="Liberation Sans" fill="#222" font-size="8.4" text-anchor="end">1000</text><text x="47.20" y="224.00" font-family="Liberation Sans" fill="#222" font-size="8.4" text-anchor="middle">5</text><text x="83.40" y="224.00" font-family="Liberation Sans" fill="#222" font-size="8.4" text-anchor="middle">10</text><text x="119.60" y="224.00" font-family="Liberation Sans" fill="#222" font-size="8.4" text-anchor="middle">15</text><text x="155.80" y="224.00" font-family="Liberation Sans" fill="#222" font-size="8.4" text-anchor="middle">20</text><rect x="46.90" y="231.00" width="108.60" height="95.00" fill="none" stroke="#111" stroke-width="1"/><line x1="44.30" y1="231.00" x2="48.10" y2="231.00" stroke="#111" stroke-width="0.9"/><line x1="154.30" y1="231.00" x2="155.50" y2="231.00" stroke="#111" stroke-width="0.9"/><line x1="45.50" y1="240.50" x2="47.70" y2="240.50" stroke="#111" stroke-width="0.9"/><line x1="154.70" y1="240.50" x2="155.50" y2="240.50" stroke="#111" stroke-width="0.9"/><line x1="44.30" y1="250.00" x2="48.10" y2="250.00" stroke="#111" stroke-width="0.9"/><line x1="154.30" y1="250.00" x2="155.50" y2="250.00" stroke="#111" stroke-width="0.9"/><line x1="45.50" y1="259.50" x2="47.70" y2="259.50" stroke="#111" stroke-width="0.9"/><line x1="154.70" y1="259.50" x2="155.50" y2="259.50" stroke="#111" stroke-width="0.9"/><line x1="44.30" y1="269.00" x2="48.10" y2="269.00" stroke="#111" stroke-width="0.9"/><line x1="154.30" y1="269.00" x2="155.50" y2="269.00" stroke="#111" stroke-width="0.9"/><line x1="45.50" y1="278.50" x2="47.70" y2="278.50" stroke="#111" stroke-width="0.9"/><line x1="154.70" y1="278.50" x2="155.50" y2="278.50" stroke="#111" stroke-width="0.9"/><line x1="44.30" y1="288.00" x2="48.10" y2="288.00" stroke="#111" stroke-width="0.9"/><line x1="154.30" y1="288.00" x2="155.50" y2="288.00" stroke="#111" stroke-width="0.9"/><line x1="45.50" y1="297.50" x2="47.70" y2="297.50" stroke="#111" stroke-width="0.9"/><line x1="154.70" y1="297.50" x2="155.50" y2="297.50" stroke="#111" stroke-width="0.9"/><line x1="44.30" y1="307.00" x2="48.10" y2="307.00" stroke="#111" stroke-width="0.9"/><line x1="154.30" y1="307.00" x2="155.50" y2="307.00" stroke="#111" stroke-width="0.9"/><line x1="45.50" y1="316.50" x2="47.70" y2="316.50" stroke="#111" stroke-width="0.9"/><line x1="154.70" y1="316.50" x2="155.50" y2="316.50" stroke="#111" stroke-width="0.9"/><line x1="44.30" y1="326.00" x2="48.10" y2="326.00" stroke="#111" stroke-width="0.9"/><line x1="154.30" y1="326.00" x2="155.50" y2="326.00" stroke="#111" stroke-width="0.9"/><line x1="46.90" y1="324.80" x2="46.90" y2="328.80" stroke="#111" stroke-width="0.9"/><line x1="46.90" y1="228.20" x2="46.90" y2="232.20" stroke="#111" stroke-width="0.9"/><line x1="65.00" y1="325.20" x2="65.00" y2="327.40" stroke="#111" stroke-width="0.9"/><line x1="65.00" y1="229.60" x2="65.00" y2="231.80" stroke="#111" stroke-width="0.9"/><line x1="83.10" y1="324.80" x2="83.10" y2="328.80" stroke="#111" stroke-width="0.9"/><line x1="83.10" y1="228.20" x2="83.10" y2="232.20" stroke="#111" stroke-width="0.9"/><line x1="101.20" y1="325.20" x2="101.20" y2="327.40" stroke="#111" stroke-width="0.9"/><line x1="101.20" y1="229.60" x2="101.20" y2="231.80" stroke="#111" stroke-width="0.9"/><line x1="119.30" y1="324.80" x2="119.30" y2="328.80" stroke="#111" stroke-width="0.9"/><line x1="119.30" y1="228.20" x2="119.30" y2="232.20" stroke="#111" stroke-width="0.9"/><line x1="137.40" y1="325.20" x2="137.40" y2="327.40" stroke="#111" stroke-width="0.9"/><line x1="137.40" y1="229.60" x2="137.40" y2="231.80" stroke="#111" stroke-width="0.9"/><line x1="155.50" y1="324.80" x2="155.50" y2="328.80" stroke="#111" stroke-width="0.9"/><line x1="155.50" y1="228.20" x2="155.50" y2="232.20" stroke="#111" stroke-width="0.9"/><text x="41.20" y="233.50" font-family="Liberation Sans" fill="#222" font-size="8.4" text-anchor="end">500</text><text x="41.20" y="252.50" font-family="Liberation Sans" fill="#222" font-size="8.4" text-anchor="end">600</text><text x="41.20" y="271.50" font-family="Liberation Sans" fill="#222" font-size="8.4" text-anchor="end">700</text><text x="41.20" y="290.50" font-family="Liberation Sans" fill="#222" font-size="8.4" text-anchor="end">800</text><text x="41.20" y="309.50" font-family="Liberation Sans" fill="#222" font-size="8.4" text-anchor="end">900</text><text x="41.20" y="328.50" font-family="Liberation Sans" fill="#222" font-size="8.4" text-anchor="end">1000</text><text x="47.20" y="337.80" font-family="Liberation Sans" fill="#222" font-size="8.4" text-anchor="middle">5</text><text x="83.40" y="337.80" font-family="Liberation Sans" fill="#222" font-size="8.4" text-anchor="middle">10</text><text x="119.60" y="337.80" font-family="Liberation Sans" fill="#222" font-size="8.4" text-anchor="middle">15</text><text x="155.80" y="337.80" font-family="Liberation Sans" fill="#222" font-size="8.4" text-anchor="middle">20</text><rect x="171.60" y="3.40" width="109.20" height="95.00" fill="none" stroke="#111" stroke-width="1"/><line x1="279.60" y1="3.40" x2="283.40" y2="3.40" stroke="#111" stroke-width="0.9"/><line x1="169.00" y1="3.40" x2="172.80" y2="3.40" stroke="#111" stroke-width="0.9"/><line x1="280.00" y1="12.90" x2="282.20" y2="12.90" stroke="#111" stroke-width="0.9"/><line x1="170.20" y1="12.90" x2="172.40" y2="12.90" stroke="#111" stroke-width="0.9"/><line x1="279.60" y1="22.40" x2="283.40" y2="22.40" stroke="#111" stroke-width="0.9"/><line x1="169.00" y1="22.40" x2="172.80" y2="22.40" stroke="#111" stroke-width="0.9"/><line x1="280.00" y1="31.90" x2="282.20" y2="31.90" stroke="#111" stroke-width="0.9"/><line x1="170.20" y1="31.90" x2="172.40" y2="31.90" stroke="#111" stroke-width="0.9"/><line x1="279.60" y1="41.40" x2="283.40" y2="41.40" stroke="#111" stroke-width="0.9"/><line x1="169.00" y1="41.40" x2="172.80" y2="41.40" stroke="#111" stroke-width="0.9"/><line x1="280.00" y1="50.90" x2="282.20" y2="50.90" stroke="#111" stroke-width="0.9"/><line x1="170.20" y1="50.90" x2="172.40" y2="50.90" stroke="#111" stroke-width="0.9"/><line x1="279.60" y1="60.40" x2="283.40" y2="60.40" stroke="#111" stroke-width="0.9"/><line x1="169.00" y1="60.40" x2="172.80" y2="60.40" stroke="#111" stroke-width="0.9"/><line x1="280.00" y1="69.90" x2="282.20" y2="69.90" stroke="#111" stroke-width="0.9"/><line x1="170.20" y1="69.90" x2="172.40" y2="69.90" stroke="#111" stroke-width="0.9"/><line x1="279.60" y1="79.40" x2="283.40" y2="79.40" stroke="#111" stroke-width="0.9"/><line x1="169.00" y1="79.40" x2="172.80" y2="79.40" stroke="#111" stroke-width="0.9"/><line x1="280.00" y1="88.90" x2="282.20" y2="88.90" stroke="#111" stroke-width="0.9"/><line x1="170.20" y1="88.90" x2="172.40" y2="88.90" stroke="#111" stroke-width="0.9"/><line x1="279.60" y1="98.40" x2="283.40" y2="98.40" stroke="#111" stroke-width="0.9"/><line x1="169.00" y1="98.40" x2="172.80" y2="98.40" stroke="#111" stroke-width="0.9"/><line x1="171.60" y1="97.20" x2="171.60" y2="101.20" stroke="#111" stroke-width="0.9"/><line x1="171.60" y1="0.60" x2="171.60" y2="4.60" stroke="#111" stroke-width="0.9"/><line x1="189.80" y1="97.60" x2="189.80" y2="99.80" stroke="#111" stroke-width="0.9"/><line x1="189.80" y1="2.00" x2="189.80" y2="4.20" stroke="#111" stroke-width="0.9"/><line x1="208.00" y1="97.20" x2="208.00" y2="101.20" stroke="#111" stroke-width="0.9"/><line x1="208.00" y1="0.60" x2="208.00" y2="4.60" stroke="#111" stroke-width="0.9"/><line x1="226.20" y1="97.60" x2="226.20" y2="99.80" stroke="#111" stroke-width="0.9"/><line x1="226.20" y1="2.00" x2="226.20" y2="4.20" stroke="#111" stroke-width="0.9"/><line x1="244.40" y1="97.20" x2="244.40" y2="101.20" stroke="#111" stroke-width="0.9"/><line x1="244.40" y1="0.60" x2="244.40" y2="4.60" stroke="#111" stroke-width="0.9"/><line x1="262.60" y1="97.60" x2="262.60" y2="99.80" stroke="#111" stroke-width="0.9"/><line x1="262.60" y1="2.00" x2="262.60" y2="4.20" stroke="#111" stroke-width="0.9"/><line x1="280.80" y1="97.20" x2="280.80" y2="101.20" stroke="#111" stroke-width="0.9"/><line x1="280.80" y1="0.60" x2="280.80" y2="4.60" stroke="#111" stroke-width="0.9"/><text x="285.60" y="6.00" font-family="Liberation Sans" fill="#222" font-size="8.4">500</text><text x="285.60" y="25.00" font-family="Liberation Sans" fill="#222" font-size="8.4">600</text><text x="285.60" y="44.00" font-family="Liberation Sans" fill="#222" font-size="8.4">700</text><text x="285.60" y="63.00" font-family="Liberation Sans" fill="#222" font-size="8.4">800</text><text x="285.60" y="82.00" font-family="Liberation Sans" fill="#222" font-size="8.4">900</text><text x="285.60" y="101.00" font-family="Liberation Sans" fill="#222" font-size="8.4">1000</text><text x="171.90" y="110.20" font-family="Liberation Sans" fill="#222" font-size="8.4" text-anchor="middle">5</text><text x="208.30" y="110.20" font-family="Liberation Sans" fill="#222" font-size="8.4" text-anchor="middle">10</text><text x="244.70" y="110.20" font-family="Liberation Sans" fill="#222" font-size="8.4" text-anchor="middle">15</text><text x="281.10" y="110.20" font-family="Liberation Sans" fill="#222" font-size="8.4" text-anchor="middle">20</text><rect x="171.60" y="117.20" width="109.20" height="95.00" fill="none" stroke="#111" stroke-width="1"/><line x1="279.60" y1="117.20" x2="283.40" y2="117.20" stroke="#111" stroke-width="0.9"/><line x1="169.00" y1="117.20" x2="172.80" y2="117.20" stroke="#111" stroke-width="0.9"/><line x1="280.00" y1="126.70" x2="282.20" y2="126.70" stroke="#111" stroke-width="0.9"/><line x1="170.20" y1="126.70" x2="172.40" y2="126.70" stroke="#111" stroke-width="0.9"/><line x1="279.60" y1="136.20" x2="283.40" y2="136.20" stroke="#111" stroke-width="0.9"/><line x1="169.00" y1="136.20" x2="172.80" y2="136.20" stroke="#111" stroke-width="0.9"/><line x1="280.00" y1="145.70" x2="282.20" y2="145.70" stroke="#111" stroke-width="0.9"/><line x1="170.20" y1="145.70" x2="172.40" y2="145.70" stroke="#111" stroke-width="0.9"/><line x1="279.60" y1="155.20" x2="283.40" y2="155.20" stroke="#111" stroke-width="0.9"/><line x1="169.00" y1="155.20" x2="172.80" y2="155.20" stroke="#111" stroke-width="0.9"/><line x1="280.00" y1="164.70" x2="282.20" y2="164.70" stroke="#111" stroke-width="0.9"/><line x1="170.20" y1="164.70" x2="172.40" y2="164.70" stroke="#111" stroke-width="0.9"/><line x1="279.60" y1="174.20" x2="283.40" y2="174.20" stroke="#111" stroke-width="0.9"/><line x1="169.00" y1="174.20" x2="172.80" y2="174.20" stroke="#111" stroke-width="0.9"/><line x1="280.00" y1="183.70" x2="282.20" y2="183.70" stroke="#111" stroke-width="0.9"/><line x1="170.20" y1="183.70" x2="172.40" y2="183.70" stroke="#111" stroke-width="0.9"/><line x1="279.60" y1="193.20" x2="283.40" y2="193.20" stroke="#111" stroke-width="0.9"/><line x1="169.00" y1="193.20" x2="172.80" y2="193.20" stroke="#111" stroke-width="0.9"/><line x1="280.00" y1="202.70" x2="282.20" y2="202.70" stroke="#111" stroke-width="0.9"/><line x1="170.20" y1="202.70" x2="172.40" y2="202.70" stroke="#111" stroke-width="0.9"/><line x1="279.60" y1="212.20" x2="283.40" y2="212.20" stroke="#111" stroke-width="0.9"/><line x1="169.00" y1="212.20" x2="172.80" y2="212.20" stroke="#111" stroke-width="0.9"/><line x1="171.60" y1="211.00" x2="171.60" y2="215.00" stroke="#111" stroke-width="0.9"/><line x1="171.60" y1="114.40" x2="171.60" y2="118.40" stroke="#111" stroke-width="0.9"/><line x1="189.80" y1="211.40" x2="189.80" y2="213.60" stroke="#111" stroke-width="0.9"/><line x1="189.80" y1="115.80" x2="189.80" y2="118.00" stroke="#111" stroke-width="0.9"/><line x1="208.00" y1="211.00" x2="208.00" y2="215.00" stroke="#111" stroke-width="0.9"/><line x1="208.00" y1="114.40" x2="208.00" y2="118.40" stroke="#111" stroke-width="0.9"/><line x1="226.20" y1="211.40" x2="226.20" y2="213.60" stroke="#111" stroke-width="0.9"/><line x1="226.20" y1="115.80" x2="226.20" y2="118.00" stroke="#111" stroke-width="0.9"/><line x1="244.40" y1="211.00" x2="244.40" y2="215.00" stroke="#111" stroke-width="0.9"/><line x1="244.40" y1="114.40" x2="244.40" y2="118.40" stroke="#111" stroke-width="0.9"/><line x1="262.60" y1="211.40" x2="262.60" y2="213.60" stroke="#111" stroke-width="0.9"/><line x1="262.60" y1="115.80" x2="262.60" y2="118.00" stroke="#111" stroke-width="0.9"/><line x1="280.80" y1="211.00" x2="280.80" y2="215.00" stroke="#111" stroke-width="0.9"/><line x1="280.80" y1="114.40" x2="280.80" y2="118.40" stroke="#111" stroke-width="0.9"/><text x="285.60" y="119.80" font-family="Liberation Sans" fill="#222" font-size="8.4">500</text><text x="285.60" y="138.80" font-family="Liberation Sans" fill="#222" font-size="8.4">600</text><text x="285.60" y="157.80" font-family="Liberation Sans" fill="#222" font-size="8.4">700</text><text x="285.60" y="176.80" font-family="Liberation Sans" fill="#222" font-size="8.4">800</text><text x="285.60" y="195.80" font-family="Liberation Sans" fill="#222" font-size="8.4">900</text><text x="285.60" y="214.80" font-family="Liberation Sans" fill="#222" font-size="8.4">1000</text><text x="171.90" y="224.00" font-family="Liberation Sans" fill="#222" font-size="8.4" text-anchor="middle">5</text><text x="208.30" y="224.00" font-family="Liberation Sans" fill="#222" font-size="8.4" text-anchor="middle">10</text><text x="244.70" y="224.00" font-family="Liberation Sans" fill="#222" font-size="8.4" text-anchor="middle">15</text><text x="281.10" y="224.00" font-family="Liberation Sans" fill="#222" font-size="8.4" text-anchor="middle">20</text><rect x="171.60" y="231.00" width="109.20" height="95.00" fill="none" stroke="#111" stroke-width="1"/><line x1="279.60" y1="231.00" x2="283.40" y2="231.00" stroke="#111" stroke-width="0.9"/><line x1="169.00" y1="231.00" x2="172.80" y2="231.00" stroke="#111" stroke-width="0.9"/><line x1="280.00" y1="240.50" x2="282.20" y2="240.50" stroke="#111" stroke-width="0.9"/><line x1="170.20" y1="240.50" x2="172.40" y2="240.50" stroke="#111" stroke-width="0.9"/><line x1="279.60" y1="250.00" x2="283.40" y2="250.00" stroke="#111" stroke-width="0.9"/><line x1="169.00" y1="250.00" x2="172.80" y2="250.00" stroke="#111" stroke-width="0.9"/><line x1="280.00" y1="259.50" x2="282.20" y2="259.50" stroke="#111" stroke-width="0.9"/><line x1="170.20" y1="259.50" x2="172.40" y2="259.50" stroke="#111" stroke-width="0.9"/><line x1="279.60" y1="269.00" x2="283.40" y2="269.00" stroke="#111" stroke-width="0.9"/><line x1="169.00" y1="269.00" x2="172.80" y2="269.00" stroke="#111" stroke-width="0.9"/><line x1="280.00" y1="278.50" x2="282.20" y2="278.50" stroke="#111" stroke-width="0.9"/><line x1="170.20" y1="278.50" x2="172.40" y2="278.50" stroke="#111" stroke-width="0.9"/><line x1="279.60" y1="288.00" x2="283.40" y2="288.00" stroke="#111" stroke-width="0.9"/><line x1="169.00" y1="288.00" x2="172.80" y2="288.00" stroke="#111" stroke-width="0.9"/><line x1="280.00" y1="297.50" x2="282.20" y2="297.50" stroke="#111" stroke-width="0.9"/><line x1="170.20" y1="297.50" x2="172.40" y2="297.50" stroke="#111" stroke-width="0.9"/><line x1="279.60" y1="307.00" x2="283.40" y2="307.00" stroke="#111" stroke-width="0.9"/><line x1="169.00" y1="307.00" x2="172.80" y2="307.00" stroke="#111" stroke-width="0.9"/><line x1="280.00" y1="316.50" x2="282.20" y2="316.50" stroke="#111" stroke-width="0.9"/><line x1="170.20" y1="316.50" x2="172.40" y2="316.50" stroke="#111" stroke-width="0.9"/><line x1="279.60" y1="326.00" x2="283.40" y2="326.00" stroke="#111" stroke-width="0.9"/><line x1="169.00" y1="326.00" x2="172.80" y2="326.00" stroke="#111" stroke-width="0.9"/><line x1="171.60" y1="324.80" x2="171.60" y2="328.80" stroke="#111" stroke-width="0.9"/><line x1="171.60" y1="228.20" x2="171.60" y2="232.20" stroke="#111" stroke-width="0.9"/><line x1="189.80" y1="325.20" x2="189.80" y2="327.40" stroke="#111" stroke-width="0.9"/><line x1="189.80" y1="229.60" x2="189.80" y2="231.80" stroke="#111" stroke-width="0.9"/><line x1="208.00" y1="324.80" x2="208.00" y2="328.80" stroke="#111" stroke-width="0.9"/><line x1="208.00" y1="228.20" x2="208.00" y2="232.20" stroke="#111" stroke-width="0.9"/><line x1="226.20" y1="325.20" x2="226.20" y2="327.40" stroke="#111" stroke-width="0.9"/><line x1="226.20" y1="229.60" x2="226.20" y2="231.80" stroke="#111" stroke-width="0.9"/><line x1="244.40" y1="324.80" x2="244.40" y2="328.80" stroke="#111" stroke-width="0.9"/><line x1="244.40" y1="228.20" x2="244.40" y2="232.20" stroke="#111" stroke-width="0.9"/><line x1="262.60" y1="325.20" x2="262.60" y2="327.40" stroke="#111" stroke-width="0.9"/><line x1="262.60" y1="229.60" x2="262.60" y2="231.80" stroke="#111" stroke-width="0.9"/><line x1="280.80" y1="324.80" x2="280.80" y2="328.80" stroke="#111" stroke-width="0.9"/><line x1="280.80" y1="228.20" x2="280.80" y2="232.20" stroke="#111" stroke-width="0.9"/><text x="285.60" y="233.60" font-family="Liberation Sans" fill="#222" font-size="8.4">500</text><text x="285.60" y="252.60" font-family="Liberation Sans" fill="#222" font-size="8.4">600</text><text x="285.60" y="271.60" font-family="Liberation Sans" fill="#222" font-size="8.4">700</text><text x="285.60" y="290.60" font-family="Liberation Sans" fill="#222" font-size="8.4">800</text><text x="285.60" y="309.60" font-family="Liberation Sans" fill="#222" font-size="8.4">900</text><text x="285.60" y="328.60" font-family="Liberation Sans" fill="#222" font-size="8.4">1000</text><text x="171.90" y="337.80" font-family="Liberation Sans" fill="#222" font-size="8.4" text-anchor="middle">5</text><text x="208.30" y="337.80" font-family="Liberation Sans" fill="#222" font-size="8.4" text-anchor="middle">10</text><text x="244.70" y="337.80" font-family="Liberation Sans" fill="#222" font-size="8.4" text-anchor="middle">15</text><text x="281.10" y="337.80" font-family="Liberation Sans" fill="#222" font-size="8.4" text-anchor="middle">20</text><rect x="307.6" y="2" width="10.2" height="114" fill="url(#cbg)"/><text x="322" y="6.00" font-family="Liberation Sans" fill="#222" font-size="8.5">1.0</text><text x="322" y="28.60" font-family="Liberation Sans" fill="#222" font-size="8.5">0.8</text><text x="322" y="51.20" font-family="Liberation Sans" fill="#222" font-size="8.5">0.6</text><text x="322" y="73.80" font-family="Liberation Sans" fill="#222" font-size="8.5">0.4</text><text x="322" y="96.40" font-family="Liberation Sans" fill="#222" font-size="8.5">0.2</text><text x="322" y="119.00" font-family="Liberation Sans" fill="#222" font-size="8.5">0</text><text x="101.5" y="352.8" font-family="Liberation Sans" font-size="13.35" fill="#111">incident angle (deg)</text><text transform="translate(10.2,207.5) rotate(-90)" font-family="Liberation Sans" font-size="13" fill="#111">wavelength (nm)</text></svg></body></html>
